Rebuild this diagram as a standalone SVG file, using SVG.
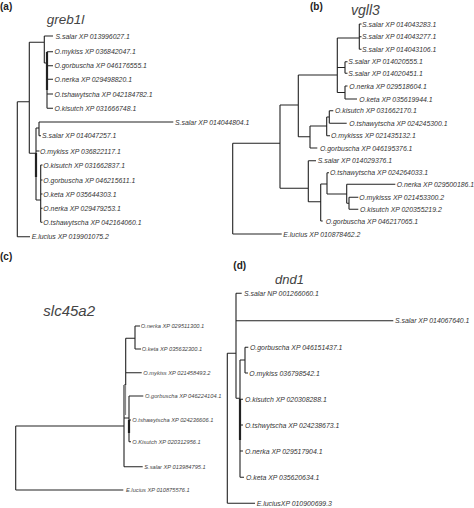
<svg xmlns="http://www.w3.org/2000/svg" width="474" height="508" viewBox="0 0 474 508">
<style>
.t{font-family:"Liberation Sans",Arial,sans-serif;font-style:italic;font-size:6.9px;fill:#333}
.s{font-size:5.7px;fill:#444}
.ti{font-family:"Liberation Sans",Arial,sans-serif;font-style:italic;fill:#444}
.lb{font-family:"Liberation Sans",Arial,sans-serif;font-weight:bold;font-size:10px;fill:#222}
.e{fill:none;stroke:#222;stroke-width:1.1}
.k{fill:none;stroke:#222;stroke-width:2.2}
.g{fill:none;stroke:#888;stroke-width:2.6}
</style>
<rect width="474" height="508" fill="#fff"/>
<g id="connectors">
<path class="e" d="M17.3 101.7V236.7M17.3 101.7H29.3M17.3 236.7H30M29.3 42.3V153.3M29.3 42.3H44.3M29.3 153.3H36M44.3 36V63M44.3 36H53M44.3 63H47M47 51.7V108.3M47 51.7H53M47 65.7H53M47 79.3H53M47 94H53M47 108.3H53M36 128V200M36 128H39M36 151H39.5M36 200H40.7M39 122V135.7M39 122H173.3M39 135.7H41M40.7 165V222.3M40.7 165H42.5M40.7 180H42.5M40.7 194H42.5M40.7 208.3H42.5M40.7 222.3H42.5"/>
<path class="k" d="M47 52V90M36 153V177"/>
<path class="e" d="M232.7 143.3V234M232.7 143.3H280M232.7 234H281.7M280 105V188.3M280 105H298.3M280 188.3H308.3M298.3 75V136.7M298.3 75H337.3M298.3 136.7H310M337.3 38V92.5M337.3 38H359.3M337.3 67.5H345M337.3 92.5H345M359.3 24V49.3M359.3 24H361.5M359.3 36.7H361.5M359.3 49.3H361.5M345 61.7V73.3M345 61.7H347.5M345 73.3H347.5M345 86V99M345 86H347.5M345 99H357M310 126V148M310 126H326.7M310 148H317.3M326.7 117V135.7M326.7 117H329.3M326.7 135.7H330M329.3 110.7V123.3M329.3 110.7H333.3M329.3 123.3H346.7M308.3 160.7V201.7M308.3 160.7H316M308.3 201.7H320.7M320.7 184V221M320.7 184H327M320.7 221H322.7M327 172.7V194M327 172.7H329M327 194H346.7M346.7 184.3V203.3M346.7 184.3H395.3M346.7 203.3H349M349 197.3V209.3M349 197.3H358.3M349 209.3H358.3"/>
<path class="e" d="M15.7 426V490M15.7 426H124M15.7 490H123.3M124 385V466.7M124 385H125.7M124 418H129M124 466.7H142.7M125.7 338.3V385M125.7 338.3H135M125.7 372.7H141.7M135 326V349M135 326H140M135 349H141M129 396V441.7M129 396H143.3M129 420H131M129 441.7H131"/>
<path class="g" d="M124.8 385V415"/>
<path class="k" d="M129 420V433"/>
<path class="e" d="M227.3 353.3V503.3M227.3 353.3H236M227.3 503.3H255M236 293.3V398.3M236 293.3H241.7M236 320.7H393.3M236 398.3H240M240 360V477.3M240 360H245M240 399.3H243M240 425H243M240 451H243M240 477.3H244M245 347.3V373M245 347.3H248.3M245 373H248"/>
<path class="k" d="M240 399V440"/>
</g>
<g id="labels">
<text class="lb" x="0" y="9.8">(a)</text>
<text class="lb" x="310" y="10.3">(b)</text>
<text class="lb" x="0" y="259.5">(c)</text>
<text class="lb" x="233.3" y="268.7">(d)</text>
<text class="ti" x="46.7" y="24.2" font-size="13.5">greb1l</text>
<text class="ti" x="351" y="15.3" font-size="14">vgll3</text>
<text class="ti" x="43.3" y="315.5" font-size="15">slc45a2</text>
<text class="ti" x="275" y="284" font-size="13">dnd1</text>
</g>
<g id="a1"><text class="t" x="55.5" y="38.5">S.salar XP 013996027.1</text></g>
<g id="a2"><text class="t" x="54.5" y="54.2">O.mykiss XP 036842047.1</text></g>
<g id="a3"><text class="t" x="54.5" y="68.2">O.gorbuscha XP 046176555.1</text></g>
<g id="a4"><text class="t" x="54.5" y="81.8">O.nerka XP 029498820.1</text></g>
<g id="a5"><text class="t" x="54.5" y="96.5">O.tshawytscha XP 042184782.1</text></g>
<g id="a6"><text class="t" x="54.5" y="110.8">O.kisutch XP 031666748.1</text></g>
<g id="a7"><text class="t" x="175" y="124.5">S.salar XP 014044804.1</text></g>
<g id="a8"><text class="t" x="42" y="138.2">S.salar XP 014047257.1</text></g>
<g id="a9"><text class="t" x="40" y="153.5">O.mykiss XP 036822117.1</text></g>
<g id="a10"><text class="t" x="43.3" y="167.5">O.kisutch XP 031662837.1</text></g>
<g id="a11"><text class="t" x="43.3" y="182.5">O.gorbuscha XP 046215611.1</text></g>
<g id="a12"><text class="t" x="43.3" y="196.5">O.keta XP 035644303.1</text></g>
<g id="a13"><text class="t" x="43.3" y="210.8">O.nerka XP 029479253.1</text></g>
<g id="a14"><text class="t" x="43.3" y="224.8">O.tshawytscha XP 042164060.1</text></g>
<g id="a15"><text class="t" x="31.7" y="239.2">E.lucius XP 019901075.2</text></g>
<g id="b1"><text class="t" x="362" y="26.5">S.salar XP 014043283.1</text></g>
<g id="b2"><text class="t" x="362" y="39.2">S.salar XP 014043277.1</text></g>
<g id="b3"><text class="t" x="362" y="51.8">S.salar XP 014043106.1</text></g>
<g id="b4"><text class="t" x="348.3" y="64.2">S.salar XP 014020555.1</text></g>
<g id="b5"><text class="t" x="348.3" y="75.8">S.salar XP 014020451.1</text></g>
<g id="b6"><text class="t" x="349.3" y="88.5">O.nerka XP 029518604.1</text></g>
<g id="b7"><text class="t" x="359.3" y="101.5">O.keta XP 035619944.1</text></g>
<g id="b8"><text class="t" x="335" y="113.2">O.kisutch XP 031662170.1</text></g>
<g id="b9"><text class="t" x="349.3" y="125.8">O.tshawytscha XP 024245300.1</text></g>
<g id="b10"><text class="t" x="331" y="138.2">O.mykisss XP 021435132.1</text></g>
<g id="b11"><text class="t" x="320" y="150.5">O.gorbuscha XP 046195376.1</text></g>
<g id="b12"><text class="t" x="317.7" y="163.2">S.salar XP 014029376.1</text></g>
<g id="b13"><text class="t" x="330" y="175.2">O.tshawytscha XP 024264033.1</text></g>
<g id="b14"><text class="t" x="396.7" y="186.8">O.nerka XP 029500186.1</text></g>
<g id="b15"><text class="t" x="359.3" y="199.8">O.mykisss XP 021453300.2</text></g>
<g id="b16"><text class="t" x="360" y="211.8">O.kisutch XP 020355219.2</text></g>
<g id="b17"><text class="t" x="325.7" y="223.5">O.gorbuscha XP 046217065.1</text></g>
<g id="b18"><text class="t" x="283.3" y="236.5">E.lucius XP 010878462.2</text></g>
<g id="c1"><text class="t s" x="140.7" y="328">O.nerka XP 029511300.1</text></g>
<g id="c2"><text class="t s" x="141.7" y="351">O.keta XP 035632300.1</text></g>
<g id="c3"><text class="t s" x="143.3" y="374.8">O.mykiss XP 021458493.2</text></g>
<g id="c4"><text class="t s" x="145" y="398">O.gorbuscha XP 046224104.1</text></g>
<g id="c5"><text class="t s" x="132.3" y="422">O.tshawytscha XP 024236606.1</text></g>
<g id="c6"><text class="t s" x="132.3" y="443.8">O.Kisutch XP 020312956.1</text></g>
<g id="c7"><text class="t s" x="144.3" y="468.8">S.salar XP 013984795.1</text></g>
<g id="c8"><text class="t s" x="126" y="492">E.lucius XP 010875576.1</text></g>
<g id="d1"><text class="t" x="244" y="295.8">S.salar NP 001266060.1</text></g>
<g id="d2"><text class="t" x="395" y="323.2">S.salar XP 014067640.1</text></g>
<g id="d3"><text class="t" x="250" y="349.8">O.gorbuscha XP 046151437.1</text></g>
<g id="d4"><text class="t" x="249.3" y="375.5">O.mykiss 036798542.1</text></g>
<g id="d5"><text class="t" x="245" y="401.8">O.kisutch XP 020308288.1</text></g>
<g id="d6"><text class="t" x="245" y="427.5">O.tshwytscha XP 024238673.1</text></g>
<g id="d7"><text class="t" x="245" y="453.5">O.nerka XP 029517904.1</text></g>
<g id="d8"><text class="t" x="246" y="479.8">O.keta XP 035620634.1</text></g>
<g id="d9"><text class="t" x="256.7" y="505.8">E.luciusXP 010900699.3</text></g>
</svg>
